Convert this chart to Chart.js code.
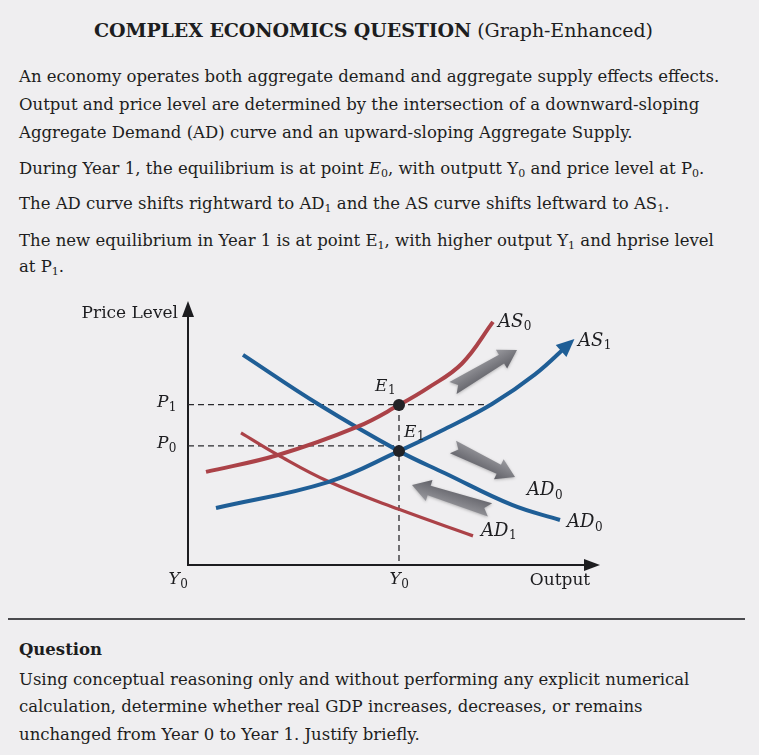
<!DOCTYPE html>
<html>
<head>
<meta charset="utf-8">
<script src="https://cdn.jsdelivr.net/npm/chart.js@4.4.1/dist/chart.umd.min.js"></script>
<style>
  html, body { margin: 0; padding: 0; }
  body { width: 759px; height: 755px; background: #efeef0; position: relative; overflow: hidden;
         font-family: 'DejaVu Serif', serif; color: #1d1d20; }
  .ln { position: absolute; left: 19px; white-space: nowrap; font-size: 16.5px; line-height: 20px; }
  .ln sub { font-size: 11px; vertical-align: -3px; line-height: 0; }
  #title { left: 94px; font-size: 19px; letter-spacing: -0.1px; }
  #rule { position: absolute; left: 8px; width: 737px; top: 618px; height: 2px; background: #4a4a4e; }
  #wrap { position: absolute; left: 0; top: 290px; width: 759px; height: 320px; }
</style>
</head>
<body>
<div class="ln" id="title" style="top:20px"><b>COMPLEX ECONOMICS QUESTION</b> (Graph-Enhanced)</div>

<div class="ln" style="top:67px">An economy operates both aggregate demand and aggregate supply effects effects.</div>
<div class="ln" style="top:95px">Output and price level are determined by the intersection of a downward-sloping</div>
<div class="ln" style="top:123px">Aggregate Demand (AD) curve and an upward-sloping Aggregate Supply.</div>
<div class="ln" style="top:159px">During Year 1, the equilibrium is at point <i>E</i><sub>0</sub>, with outputt Y<sub>0</sub> and price level at P<sub>0</sub>.</div>
<div class="ln" style="top:194px">The AD curve shifts rightward to AD<sub>1</sub> and the AS curve shifts leftward to AS<sub>1</sub>.</div>
<div class="ln" style="top:231px">The new equilibrium in Year 1 is at point E<sub>1</sub>, with higher output Y<sub>1</sub> and hprise level</div>
<div class="ln" style="top:257px">at P<sub>1</sub>.</div>

<div id="wrap"><canvas id="grafica"></canvas></div>

<div id="rule"></div>
<div class="ln" style="top:640px"><b>Question</b></div>
<div class="ln" style="top:670px">Using conceptual reasoning only and without performing any explicit numerical</div>
<div class="ln" style="top:697px">calculation, determine whether real GDP increases, decreases, or remains</div>
<div class="ln" style="top:725px">unchanged from Year 0 to Year 1. Justify briefly.</div>

<script>
// curves, output (x) and price level (y), arbitrary units 0..100
const asZeroOutput = [4.5, 22.5, 42.25, 52.75, 60, 68.5, 76.25];
const asZeroPrice = [35.8, 42.3, 53.1, 61.5, 68.1, 77.5, 93.5];
const asOneOutput = [7, 35, 52.75, 64.25, 76, 86.75, 95.5];
const asOnePrice = [21.9, 31.9, 43.8, 52.3, 61.9, 73.3, 85.4];
const adZeroOutput = [13.75, 32.5, 52.75, 64.25, 81, 93];
const adZeroPrice = [80.8, 61.9, 43.8, 35.3, 23.1, 17.3];
const adOneOutput = [13.25, 22.5, 35, 52.75, 71.25];
const adOnePrice = [50.8, 42.3, 32.2, 21.4, 11.2];

// equilibrium points
const eqOutput = [52.75, 52.75];
const eqPrice = [61.5, 43.8];
const eqLabels = ['E_1', 'E_1'];

// axis ticks
const priceTicks = [61.7, 45.8];
const priceTickLabels = ['P_1', 'P_0'];
const outputTicks = [0, 52.75];
const outputTickLabels = ['Y_0', 'Y_0'];
const p1GuideEnd = 76; // where P1 guide meets AS1

const red = '#ab4248';
const blue = '#1f5e96';
const ink = '#1d1d20';

const pts = (xs, ys) => xs.map((x, i) => ({ x: x, y: ys[i] }));

function curve(label, xs, ys, color, width) {
    return {
        label: label,
        data: pts(xs, ys),
        showLine: true,
        borderColor: color,
        borderWidth: width,
        pointRadius: 0,
        tension: 0.4,
        borderCapStyle: 'butt',
        order: 1
    };
}

function guide(xs, ys) {
    return {
        data: pts(xs, ys),
        showLine: true,
        borderColor: '#2a2a2e',
        borderWidth: 1.3,
        borderDash: [6, 4],
        pointRadius: 0,
        order: 2
    };
}

// text with a subscript after "_"
function drawSub(ctx, text, x, y, size, italic, align) {
    const parts = text.split('_');
    const base = parts[0], sub = parts[1] || '';
    const fBase = (italic ? 'italic ' : '') + size + 'px "DejaVu Serif"';
    const fSub = Math.round(size * 0.68) + 'px "DejaVu Serif"';
    ctx.font = fBase;
    const wb = ctx.measureText(base).width;
    ctx.font = fSub;
    const ws = ctx.measureText(sub).width;
    let x0 = x;
    if (align === 'center') x0 = x - (wb + ws) / 2;
    if (align === 'right') x0 = x - (wb + ws);
    ctx.textAlign = 'left';
    ctx.textBaseline = 'middle';
    ctx.fillStyle = ink;
    ctx.font = fBase;
    ctx.fillText(base, x0, y);
    ctx.font = fSub;
    ctx.fillText(sub, x0 + wb + 0.5, y + size * 0.3);
}

function blockArrow(ctx, x1, y1, x2, y2) {
    const a = Math.atan2(y2 - y1, x2 - x1);
    const L = Math.hypot(x2 - x1, y2 - y1);
    ctx.save();
    ctx.translate(x1, y1);
    ctx.rotate(a);
    const h = 5, H = 11, hl = 18;
    const g = ctx.createLinearGradient(0, -H, 0, H);
    g.addColorStop(0, '#9a9a9f');
    g.addColorStop(0.5, '#7c7c82');
    g.addColorStop(1, '#5f5f66');
    ctx.fillStyle = g;
    ctx.shadowColor = 'rgba(0,0,0,0.25)';
    ctx.shadowBlur = 3;
    ctx.shadowOffsetY = 1;
    ctx.beginPath();
    ctx.moveTo(0, -h - 2);
    ctx.lineTo(L - hl, -h);
    ctx.lineTo(L - hl, -H);
    ctx.lineTo(L, 0);
    ctx.lineTo(L - hl, H);
    ctx.lineTo(L - hl, h);
    ctx.lineTo(0, h + 2);
    ctx.lineTo(6, 0);
    ctx.closePath();
    ctx.fill();
    ctx.restore();
}

const shiftArrows = [
    { from: [66.25, 68.1], to: [82.25, 82.7] },
    { from: [66.25, 45.4], to: [81.75, 33.8] },
    { from: [75.5, 21.2], to: [56, 30.8] }
];

// label anchors in data units
const curveLabels = [
    { text: 'AS_0', at: [77.5, 93.5], align: 'left' },
    { text: 'AS_1', at: [97.5, 86.2], align: 'left' },
    { text: 'AD_0', at: [84.75, 28.8], align: 'left' },
    { text: 'AD_0', at: [94.75, 16.5], align: 'left' },
    { text: 'AD_1', at: [73.25, 13.1], align: 'left' }
];

const decor = {
    id: 'decor',
    afterDatasetsDraw(chart) {
        const ctx = chart.ctx;
        const xs = chart.scales.x, ys = chart.scales.y;
        const area = chart.chartArea;
        ctx.save();
        // axis arrow heads
        ctx.fillStyle = ink;
        ctx.beginPath();
        ctx.moveTo(area.right + 12, area.bottom);
        ctx.lineTo(area.right - 4, area.bottom - 6);
        ctx.lineTo(area.right - 4, area.bottom + 6);
        ctx.closePath();
        ctx.fill();
        ctx.beginPath();
        ctx.moveTo(area.left, area.top - 4);
        ctx.lineTo(area.left - 6, area.top + 12);
        ctx.lineTo(area.left + 6, area.top + 12);
        ctx.closePath();
        ctx.fill();

        // AS1 arrow head
        const n = asOneOutput.length;
        const tx = xs.getPixelForValue(asOneOutput[n - 1]), ty = ys.getPixelForValue(asOnePrice[n - 1]);
        const bx = xs.getPixelForValue(asOneOutput[n - 2]), by = ys.getPixelForValue(asOnePrice[n - 2]);
        const a = Math.atan2(ty - by, tx - bx);
        ctx.save();
        ctx.translate(tx, ty);
        ctx.rotate(a);
        ctx.fillStyle = blue;
        ctx.beginPath();
        ctx.moveTo(6, 0);
        ctx.lineTo(-12, -8);
        ctx.lineTo(-12, 8);
        ctx.closePath();
        ctx.fill();
        ctx.restore();

        shiftArrows.forEach(s => {
            blockArrow(ctx,
                xs.getPixelForValue(s.from[0]), ys.getPixelForValue(s.from[1]),
                xs.getPixelForValue(s.to[0]), ys.getPixelForValue(s.to[1]));
        });
        ctx.restore();
    },
    afterDraw(chart) {
        const ctx = chart.ctx;
        const xs = chart.scales.x, ys = chart.scales.y;
        const area = chart.chartArea;
        ctx.save();
        ctx.fillStyle = ink;
        ctx.font = '17px "DejaVu Serif"';
        ctx.textAlign = 'right';
        ctx.textBaseline = 'middle';
        ctx.fillText('Price Level', area.left - 10, area.top + 9);
        ctx.textAlign = 'center';
        ctx.fillText('Output', xs.getPixelForValue(93), area.bottom + 16);

        priceTicks.forEach((v, i) => drawSub(ctx, priceTickLabels[i], area.left - 12, ys.getPixelForValue(v) - 2, 17, true, 'right'));
        outputTicks.forEach((v, i) => drawSub(ctx, outputTickLabels[i], xs.getPixelForValue(v) - (i === 0 ? 10 : 0), area.bottom + 15, 17, true, 'center'));

        drawSub(ctx, eqLabels[0], xs.getPixelForValue(eqOutput[0]) - 14, ys.getPixelForValue(eqPrice[0]) - 19, 17, true, 'center');
        drawSub(ctx, eqLabels[1], xs.getPixelForValue(eqOutput[1]) + 5, ys.getPixelForValue(eqPrice[1]) - 19, 17, true, 'left');

        curveLabels.forEach(l => drawSub(ctx, l.text, xs.getPixelForValue(l.at[0]), ys.getPixelForValue(l.at[1]), 18, true, l.align));
        ctx.restore();
    }
};

const axisOpts = (pos) => ({
    type: 'linear',
    position: pos,
    min: 0,
    max: 100,
    grid: { display: false, drawTicks: false },
    border: { display: true, color: ink, width: 2 },
    ticks: { display: false },
    afterFit: s => { if (pos === 'left') s.width = 0; else s.height = 0; }
});

new Chart(document.getElementById('grafica'), {
    type: 'scatter',
    data: {
        datasets: [
            {
                label: 'Equilibrium',
                data: pts(eqOutput, eqPrice),
                pointRadius: 6,
                pointBackgroundColor: '#222226',
                pointBorderWidth: 0,
                order: 0
            },
            curve('AS0', asZeroOutput, asZeroPrice, red, 4),
            curve('AS1', asOneOutput, asOnePrice, blue, 4),
            curve('AD0', adZeroOutput, adZeroPrice, blue, 4),
            curve('AD1', adOneOutput, adOnePrice, red, 3.2),
            guide([0, p1GuideEnd], [priceTicks[0], priceTicks[0]]),
            guide([0, eqOutput[1]], [priceTicks[1], priceTicks[1]]),
            guide([eqOutput[0], eqOutput[0]], [eqPrice[0], 0])
        ]
    },
    options: {
        responsive: true,
        maintainAspectRatio: false,
        animation: false,
        layout: { padding: { left: 188, right: 171, top: 15, bottom: 45 } },
        plugins: { legend: { display: false }, tooltip: { enabled: false } },
        scales: { x: axisOpts('bottom'), y: axisOpts('left') }
    },
    plugins: [decor]
});
</script>
</body>
</html>
